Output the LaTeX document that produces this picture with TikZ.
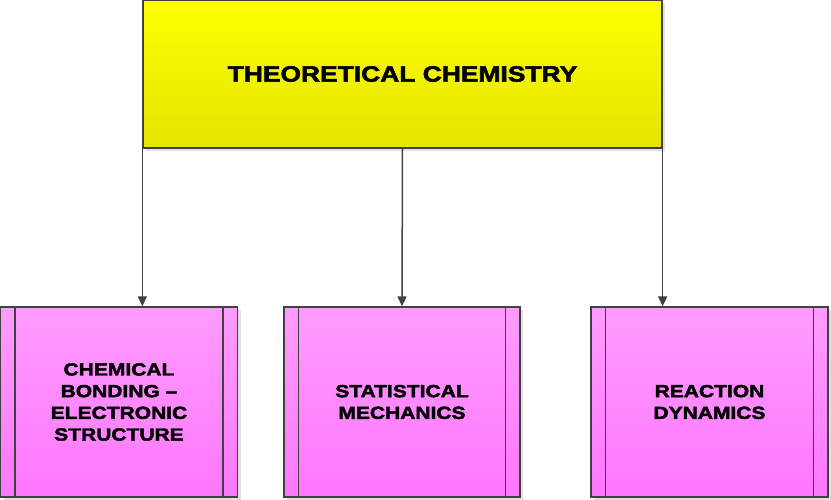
\documentclass[tikz,border=0pt]{standalone}
\usepackage{fontspec}
\newfontfamily\diagfont{Liberation Sans Bold}[FakeStretch=1.2, FakeBold=2.5]
\usepackage{tikz}
\usetikzlibrary{arrows.meta}
\usetikzlibrary{shadows}
\definecolor{edgegray}{HTML}{404040}
\definecolor{yellowtop}{HTML}{FFFF00}
\definecolor{yellowbot}{HTML}{E4E400}
\definecolor{pinktop}{HTML}{FF9CFF}
\definecolor{pinkbot}{HTML}{FF77FF}
\tikzset{
  topbox/.style={draw=edgegray, line width=1.3pt, top color=yellowtop, bottom color=yellowbot,
    minimum width=519pt, minimum height=148pt, inner sep=0pt,
    font=\diagfont\fontsize{22}{26}\selectfont,
    drop shadow={shadow xshift=3pt, shadow yshift=-3pt, fill=black!12, opacity=1}},
  procbox/.style={draw=edgegray, line width=1.3pt, top color=pinktop, bottom color=pinkbot,
    minimum height=190pt, inner sep=0pt, align=center,
    font=\diagfont\fontsize{17.5}{21.7}\selectfont,
    drop shadow={shadow xshift=3pt, shadow yshift=-3pt, fill=black!12, opacity=1},
    path picture={
      \draw[edgegray, line width=1.3pt] ([xshift=14.5pt]path picture bounding box.north west) -- ([xshift=14.5pt]path picture bounding box.south west);
      \draw[edgegray, line width=1.3pt] ([xshift=-14.5pt]path picture bounding box.north east) -- ([xshift=-14.5pt]path picture bounding box.south east);
    }},
  arr/.style={draw=edgegray, line width=1.5pt, -{Triangle[length=10pt, width=9pt]}}
}
\begin{document}
\begin{tikzpicture}[x=1pt, y=-1pt]
\useasboundingbox (0,0) rectangle (831,500);
%%% top box
\node[topbox] (theo) at (402.5,74) {THEORETICAL CHEMISTRY};
%%% branch boxes
\node[procbox, minimum width=237pt] (chem) at (119,402) {CHEMICAL\\BONDING –\\ELECTRONIC\\STRUCTURE};
\node[procbox, minimum width=236pt] (stat) at (402,402) {STATISTICAL\\MECHANICS};
\node[procbox, minimum width=237pt] (react) at (709.5,402) {REACTION\\DYNAMICS};
% arrows
\draw[arr] (theo.south west) -- (theo.south west |- chem.north);
\draw[arr] (theo.south) -- (stat.north);
\draw[arr] (theo.south east) -- (theo.south east |- react.north);
\end{tikzpicture}
\end{document}
